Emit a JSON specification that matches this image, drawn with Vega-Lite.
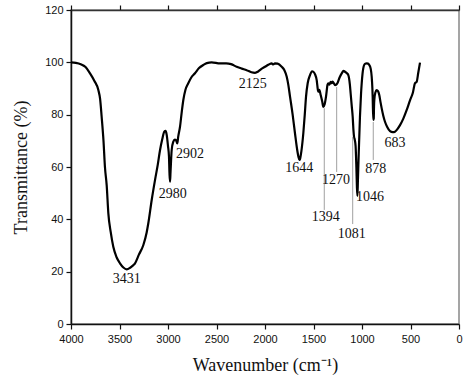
{
  "$schema": "https://vega.github.io/schema/vega-lite/v6.json",
  "width": 388,
  "height": 314,
  "autosize": {"type": "none"},
  "padding": {"left": 71, "top": 10, "right": 15, "bottom": 66},
  "background": "white",
  "view": {"stroke": "#888888", "strokeWidth": 1.5},
  "config": {
    "axis": {
      "grid": false,
      "domainColor": "#111111",
      "domainWidth": 1.5,
      "tickColor": "#111111",
      "tickWidth": 1.2,
      "tickSize": 5,
      "labelFont": "Liberation Sans",
      "labelFontSize": 11,
      "labelColor": "#111111",
      "titleFont": "Liberation Serif",
      "titleFontSize": 18,
      "titleFontWeight": "normal",
      "titleColor": "#111111",
      "format": "d"
    }
  },
  "datasets": {
    "spectrum": [
      {"w":4000,"t":100},{"w":3950,"t":99.8},{"w":3900,"t":99.3},{"w":3850,"t":98.2},{"w":3804,"t":95.8},{"w":3760,"t":93},{"w":3718,"t":89.4},{"w":3700,"t":86},{"w":3684,"t":79.2},{"w":3665,"t":70},{"w":3650,"t":60},{"w":3632,"t":53},{"w":3615,"t":42.3},{"w":3590,"t":35},{"w":3564,"t":29.5},{"w":3530,"t":25.5},{"w":3495,"t":23.2},{"w":3460,"t":21.6},{"w":3426,"t":20.9},{"w":3390,"t":21.5},{"w":3360,"t":22.4},{"w":3340,"t":23.2},{"w":3300,"t":26.5},{"w":3254,"t":30.2},{"w":3220,"t":35},{"w":3203,"t":38.5},{"w":3168,"t":47.4},{"w":3134,"t":55},{"w":3105,"t":61},{"w":3082,"t":66.5},{"w":3060,"t":70.5},{"w":3038,"t":73.5},{"w":3025,"t":73.8},{"w":3013,"t":72.2},{"w":3000,"t":68},{"w":2990,"t":64},{"w":2984,"t":57},{"w":2979,"t":54.4},{"w":2974,"t":58},{"w":2962,"t":66.5},{"w":2945,"t":69.7},{"w":2930,"t":70.5},{"w":2918,"t":70.3},{"w":2904,"t":69},{"w":2895,"t":71.5},{"w":2876,"t":75.4},{"w":2860,"t":80.5},{"w":2842,"t":85.6},{"w":2820,"t":89.5},{"w":2791,"t":92},{"w":2760,"t":94.2},{"w":2722,"t":95.8},{"w":2680,"t":97.8},{"w":2636,"t":99},{"w":2600,"t":99.7},{"w":2550,"t":100},{"w":2464,"t":99.6},{"w":2400,"t":99.6},{"w":2350,"t":99.3},{"w":2292,"t":98.3},{"w":2240,"t":97.6},{"w":2189,"t":97},{"w":2140,"t":96.2},{"w":2103,"t":96},{"w":2070,"t":96.5},{"w":2040,"t":97.4},{"w":2000,"t":98.3},{"w":1960,"t":99.2},{"w":1931,"t":99.6},{"w":1915,"t":99.2},{"w":1897,"t":99.6},{"w":1870,"t":99.5},{"w":1828,"t":98.3},{"w":1800,"t":97},{"w":1776,"t":94.5},{"w":1760,"t":91.5},{"w":1742,"t":86.9},{"w":1715,"t":80},{"w":1691,"t":72.9},{"w":1670,"t":67},{"w":1656,"t":64},{"w":1645,"t":62.7},{"w":1639,"t":63},{"w":1625,"t":66},{"w":1605,"t":72.9},{"w":1590,"t":80},{"w":1577,"t":86.9},{"w":1560,"t":92},{"w":1536,"t":95.1},{"w":1515,"t":96.6},{"w":1502,"t":96.4},{"w":1485,"t":95.5},{"w":1467,"t":93.2},{"w":1455,"t":89.5},{"w":1450,"t":88.8},{"w":1440,"t":89.5},{"w":1426,"t":87.5},{"w":1410,"t":85},{"w":1399,"t":83},{"w":1385,"t":84},{"w":1371,"t":86.9},{"w":1355,"t":91.5},{"w":1347,"t":92},{"w":1335,"t":91.5},{"w":1323,"t":92.5},{"w":1312,"t":92},{"w":1302,"t":92.6},{"w":1290,"t":92},{"w":1278,"t":91.3},{"w":1265,"t":91.5},{"w":1254,"t":92},{"w":1230,"t":94.3},{"w":1209,"t":95.8},{"w":1190,"t":96.7},{"w":1175,"t":96.4},{"w":1155,"t":95.8},{"w":1141,"t":95.1},{"w":1125,"t":91.5},{"w":1117,"t":88.1},{"w":1105,"t":83},{"w":1096,"t":79.2},{"w":1088,"t":74},{"w":1082,"t":71.5},{"w":1075,"t":70.5},{"w":1066,"t":68},{"w":1058,"t":60},{"w":1052,"t":52},{"w":1047,"t":49},{"w":1042,"t":55},{"w":1034,"t":65},{"w":1021,"t":79.2},{"w":1010,"t":88},{"w":1003,"t":92},{"w":995,"t":95.5},{"w":987,"t":97.7},{"w":970,"t":99.4},{"w":952,"t":99.6},{"w":938,"t":99.5},{"w":925,"t":99},{"w":910,"t":97.5},{"w":900,"t":94.5},{"w":893,"t":90},{"w":890,"t":86.9},{"w":884,"t":78},{"w":879,"t":78.5},{"w":876,"t":83},{"w":873,"t":85.6},{"w":862,"t":88.5},{"w":849,"t":89.4},{"w":835,"t":89},{"w":822,"t":87.5},{"w":810,"t":85},{"w":797,"t":82.4},{"w":780,"t":79.5},{"w":763,"t":77.3},{"w":740,"t":75.3},{"w":711,"t":73.7},{"w":683,"t":73.3},{"w":660,"t":73.5},{"w":635,"t":74.5},{"w":608,"t":76},{"w":574,"t":78.5},{"w":539,"t":81.8},{"w":505,"t":85.5},{"w":475,"t":88.5},{"w":454,"t":92},{"w":436,"t":92.6},{"w":420,"t":96},{"w":402,"t":99.9}
    ],
    "labels": [
      {"w":3426,"t":17.1,"label":"3431"},
      {"w":2952,"t":49.5,"label":"2980"},
      {"w":2773,"t":64.8,"label":"2902"},
      {"w":2127,"t":91.7,"label":"2125"},
      {"w":1646,"t":59.5,"label":"1644"},
      {"w":1374,"t":40.9,"label":"1394"},
      {"w":1268,"t":55,"label":"1270"},
      {"w":1106,"t":34.4,"label":"1081"},
      {"w":918,"t":48.5,"label":"1046"},
      {"w":859,"t":59.2,"label":"878"},
      {"w":660,"t":69.2,"label":"683"}
    ],
    "leaders": [
      {"w":1389,"t1":82.5,"t2":43.6},
      {"w":1261,"t1":90.6,"t2":58.1},
      {"w":1096,"t1":71.5,"t2":38.2},
      {"w":884,"t1":77.2,"t2":62.7}
    ]
  },
  "layer": [
    {
      "data": {"name": "spectrum"},
      "mark": {"type": "line", "color": "#000000", "strokeWidth": 2.2, "interpolate": "monotone"},
      "encoding": {
        "x": {
          "field": "w", "type": "quantitative",
          "scale": {"domain": [4000, 0], "nice": false},
          "axis": {"orient": "bottom", "title": "Wavenumber (cm⁻¹)", "values": [4000,3500,3000,2500,2000,1500,1000,500,0], "labelPadding": 4, "titlePadding": 12, "labelFlush": false}
        },
        "y": {
          "field": "t", "type": "quantitative",
          "scale": {"domain": [0, 120], "nice": false},
          "axis": {"title": "Transmittance (%)", "values": [0,20,40,60,80,100,120], "labelPadding": 3, "titlePadding": 14}
        },
        "order": {"field": "w", "sort": "descending"}
      }
    },
    {
      "data": {"name": "leaders"},
      "mark": {"type": "rule", "color": "#a0a0a0", "strokeWidth": 1},
      "encoding": {
        "x": {"field": "w", "type": "quantitative", "axis": null},
        "y": {"field": "t1", "type": "quantitative"},
        "y2": {"field": "t2"}
      }
    },
    {
      "data": {"name": "labels"},
      "mark": {"type": "text", "font": "Liberation Serif", "fontSize": 14, "color": "#111111", "baseline": "middle", "align": "center"},
      "encoding": {
        "x": {"field": "w", "type": "quantitative", "axis": null},
        "y": {"field": "t", "type": "quantitative"},
        "text": {"field": "label"}
      }
    },
    {
      "data": {"values": [{}]},
      "mark": {"type": "rule", "opacity": 0},
      "encoding": {
        "x": {"datum": 0, "type": "quantitative", "axis": {"orient": "top", "labels": false, "title": null, "values": [4000,3500,3000,2500,2000,1500,1000,500,0], "domainColor": "#333333"}}
      }
    }
  ],
  "resolve": {"axis": {"x": "independent"}}
}
